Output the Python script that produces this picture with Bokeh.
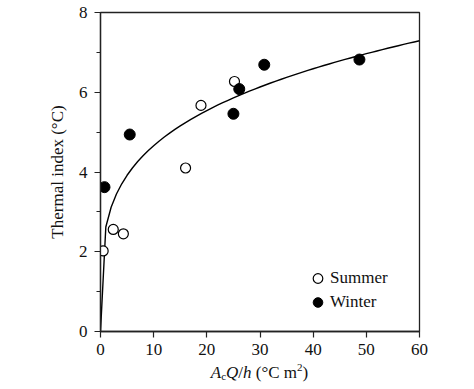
from bokeh.plotting import figure
from bokeh.models import FixedTicker, Legend, LegendItem, Div
from bokeh.layouts import column
from bokeh.embed import file_html
from bokeh.resources import INLINE

# ---- data ----
summer_x = [0.5, 2.4, 4.3, 16.0, 18.9, 25.2]
summer_y = [2.02, 2.56, 2.45, 4.10, 5.67, 6.27]
winter_x = [0.75, 5.5, 25.0, 26.1, 30.8, 48.7]
winter_y = [3.62, 4.94, 5.46, 6.08, 6.69, 6.82]
# fitted curve  y = a * x^b
fit_a = 2.62
fit_b = 0.25
fit_x = list(range(0, 61))
x_ticks = [0, 10, 20, 30, 40, 50, 60]
y_ticks = [0, 2, 4, 6, 8]
y_minor = [1, 3, 5, 7]
series_labels = ["Summer", "Winter"]
y_label = "Thermal index (°C)"
x_label_html = ("<i>A</i><span style='font-size:11px;position:relative;top:2px'>c</span>"
                "<i>Q</i>/<i>h</i> (°C m"
                "<span style='font-size:11px;position:relative;top:-7px'>2</span>)")

FONT = "Liberation Serif"
FS = "17px"

fit_y = [fit_a * xv ** fit_b for xv in fit_x]

p = figure(width=474, height=360,
           x_range=(0, 60), y_range=(0, 8),
           output_backend="svg", toolbar_location=None,
           min_border_left=100, min_border_right=55,
           min_border_top=12, min_border_bottom=29)
p.background_fill_color = "white"
p.border_fill_color = "white"
p.outline_line_color = "#222222"
p.outline_line_width = 1.3
p.xgrid.visible = False
p.ygrid.visible = False

for ax in (p.xaxis[0], p.yaxis[0]):
    ax.axis_line_color = "#222222"
    ax.axis_line_width = 1.3
    ax.major_tick_line_color = "#222222"
    ax.major_tick_line_width = 1.2
    ax.major_tick_in = 0
    ax.major_tick_out = 6
    ax.major_label_text_font = FONT
    ax.major_label_text_font_size = FS
    ax.major_label_text_color = "#111111"
    ax.axis_label_text_font = FONT
    ax.axis_label_text_font_size = FS
    ax.axis_label_text_font_style = "normal"
    ax.axis_label_text_color = "#111111"

p.xaxis.ticker = FixedTicker(ticks=x_ticks)
p.xaxis.minor_tick_line_color = None
p.xaxis.major_label_standoff = 6
p.xaxis.axis_label = None

p.yaxis.ticker = FixedTicker(ticks=y_ticks, minor_ticks=y_minor)
p.yaxis.minor_tick_line_color = "#222222"
p.yaxis.minor_tick_line_width = 1.2
p.yaxis.minor_tick_in = 0
p.yaxis.minor_tick_out = 4
p.yaxis.major_label_standoff = 7
p.yaxis.axis_label = y_label
p.yaxis.axis_label_standoff = 9

# fitted curve
p.line(fit_x, fit_y, line_color="black", line_width=1.4)

r_s = p.scatter(summer_x, summer_y, marker="circle", size=10,
                fill_color="white", line_color="black", line_width=1.2)
r_w = p.scatter(winter_x, winter_y, marker="circle", size=11,
                fill_color="black", line_color="black", line_width=1.0)

legend = Legend(items=[LegendItem(label=series_labels[0], renderers=[r_s]),
                       LegendItem(label=series_labels[1], renderers=[r_w])],
                location=(205, 17), padding=0, margin=0, spacing=0,
                glyph_width=25, glyph_height=24, label_height=24,
                label_standoff=0, border_line_color=None,
                background_fill_alpha=0,
                label_text_font=FONT, label_text_font_size=FS,
                label_text_color="#111111")
p.add_layout(legend)

xlab = Div(text=x_label_html, width=319, height=28,
           margin=(0, 0, 0, 100),
           styles={"text-align": "center", "font-family": FONT,
                   "font-size": FS, "color": "#111111",
                   "line-height": "20px", "padding-top": "3px",
                   "width": "319px"})

layout = column(p, xlab, spacing=0)

open("out.html", "w").write(file_html(layout, INLINE))
